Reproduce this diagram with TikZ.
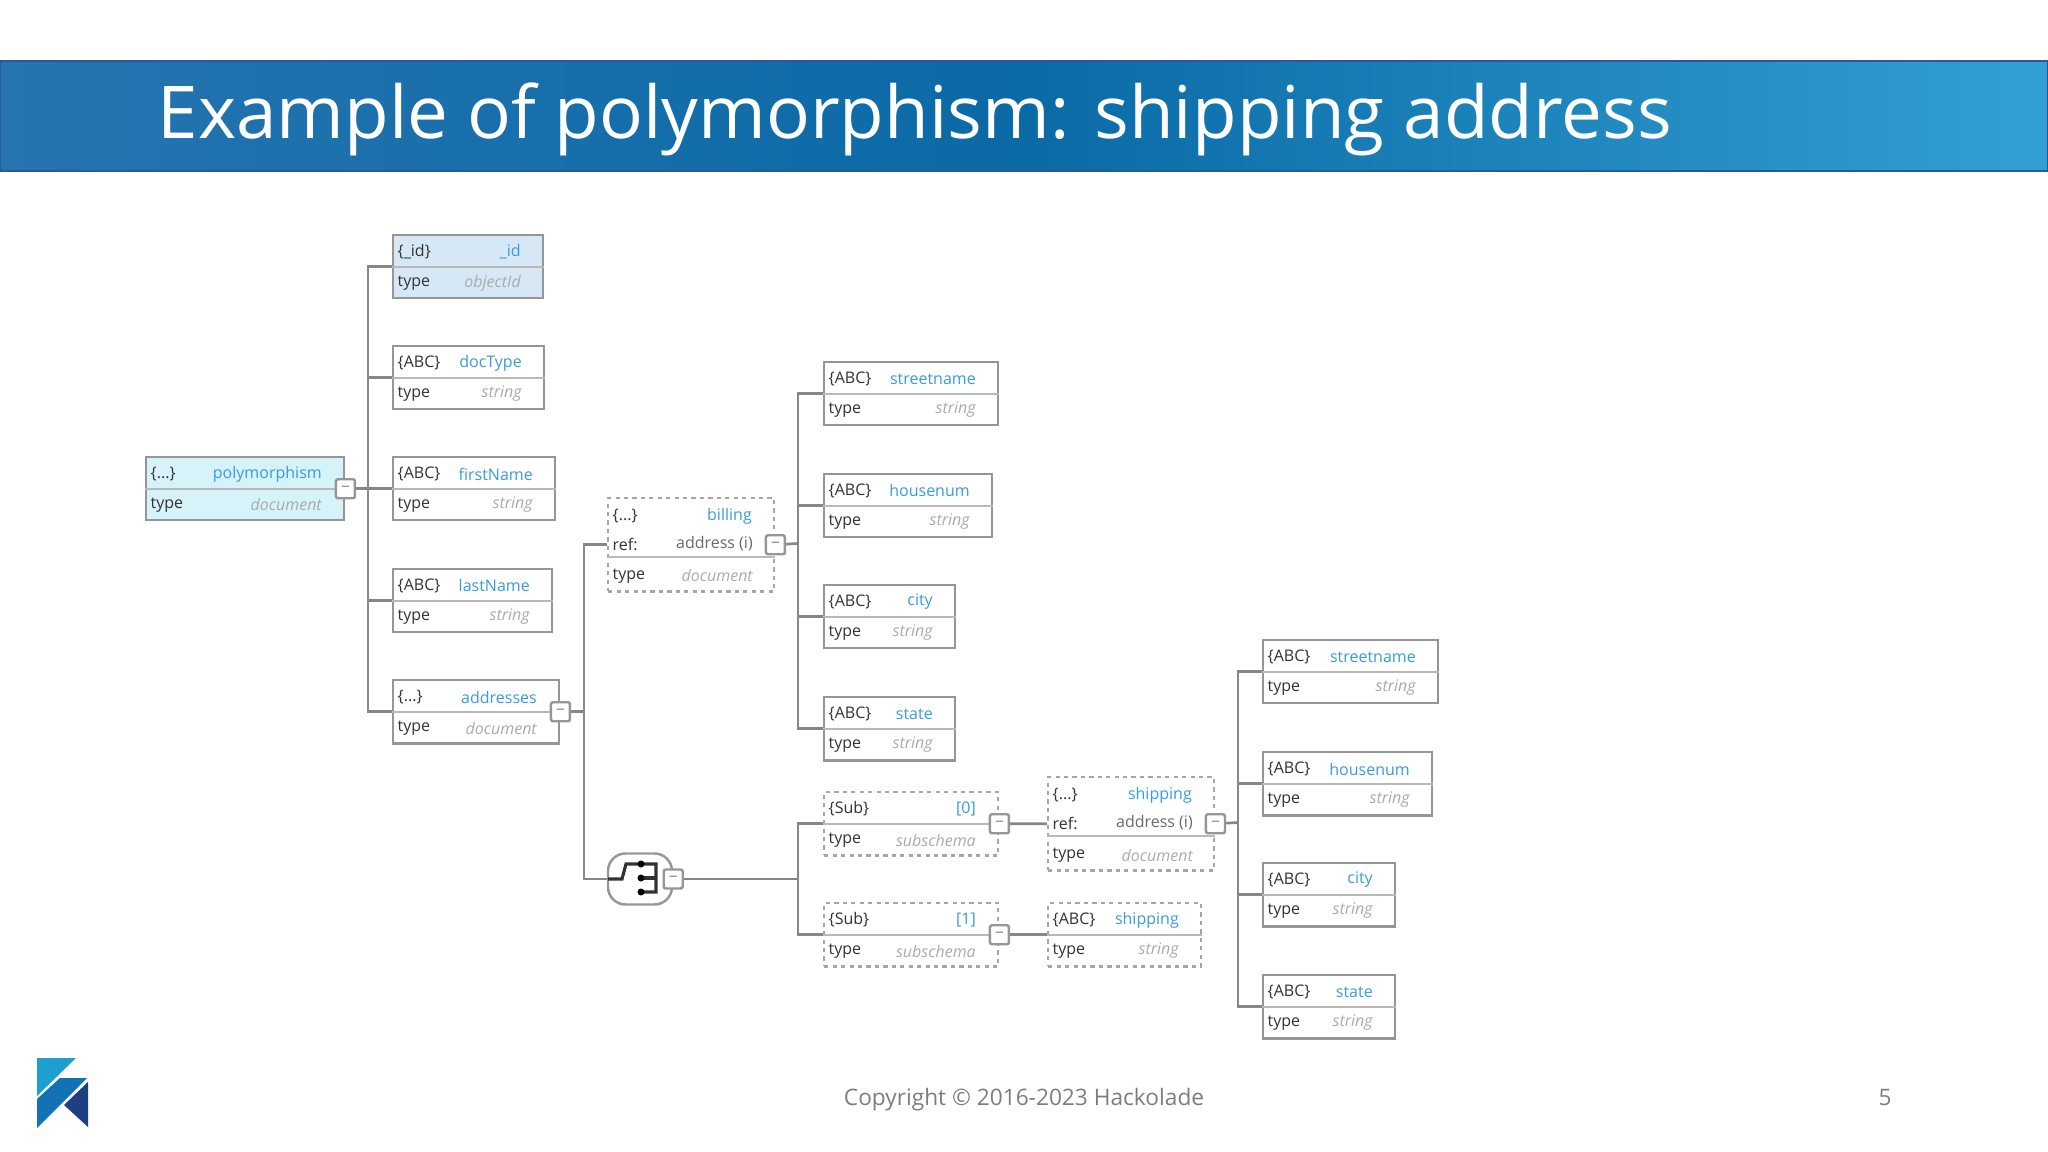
\documentclass[tikz,border=0pt]{standalone}
\usepackage{fontspec}
\setmainfont{Open Sans}
\usetikzlibrary{calc}
\definecolor{HeadLeft}{RGB}{38,116,176}
\definecolor{HeadMid}{RGB}{10,106,166}
\definecolor{HeadRight}{RGB}{50,160,210}
\definecolor{HeadEdge}{RGB}{44,88,150}
\definecolor{BoxEdge}{RGB}{150,150,150}
\definecolor{RowGrey}{RGB}{185,185,185}
\definecolor{LinkGrey}{RGB}{135,135,135}
\definecolor{NameBlue}{RGB}{58,155,220}
\definecolor{KeyDark}{RGB}{50,50,50}
\definecolor{RefGrey}{RGB}{105,105,105}
\definecolor{ValGrey}{RGB}{170,170,170}
\definecolor{RootFill}{RGB}{213,243,249}
\definecolor{IdFill}{RGB}{214,232,245}
\definecolor{FootGrey}{RGB}{125,125,125}
\definecolor{LogoLight}{RGB}{27,160,207}
\definecolor{LogoMid}{RGB}{17,115,180}
\definecolor{LogoDark}{RGB}{30,63,130}
\tikzset{
  fieldbox/.style={draw=BoxEdge,line width=0.7pt,fill=white,anchor=north west,inner sep=0pt,minimum height=0.63cm},
  refbox/.style={fieldbox,minimum height=0.93cm},
  optional/.style={draw=BoxEdge!85,dash pattern=on 1.2pt off 1.2pt},
  rowline/.style={draw=RowGrey,line width=0.6pt},
  keytext/.style={anchor=west,inner sep=0pt,text=KeyDark,font=\fontsize{4.55pt}{6pt}\selectfont},
  nametext/.style={anchor=east,inner sep=0pt,text=NameBlue,font=\fontsize{4.55pt}{6pt}\selectfont},
  valtext/.style={anchor=east,inner sep=0pt,text=ValGrey,font=\fontsize{4.55pt}{6pt}\itshape\selectfont},
  toggle/.style={draw=BoxEdge,line width=0.7pt,fill=white,rounded corners=0.6pt,minimum size=0.19cm,inner sep=0pt,text=BoxEdge,font=\fontsize{5pt}{6pt}\selectfont},
  link/.style={draw=LinkGrey,line width=0.75pt}
}
\newcommand{\fieldrow}[8]{
  \node[fieldbox,#2,minimum width=(#5-1)*0.01cm] (#1) at (#3-1,#4-1) {};
  \draw[rowline] (#1.west) -- (#1.east);
  \node[keytext] (#1key) at ($(#1.north west)+(5,18)$) {#6};
  \node[nametext] (#1name) at ($(#1.north east)+(-23,18)$) {#7};
  \node[keytext] (#1type) at ($(#1.north west)+(5,49)$) {type};
  \node[valtext] (#1val) at ($(#1.north east)+(-23,49)$) {#8};
}
\newcommand{\refrow}[7]{
  \node[refbox,optional,minimum width=(#4-1)*0.01cm] (#1) at (#2-1,#3-1) {};
  \draw[rowline] ($(#1.north west)+(0,60)$) -- ($(#1.north east)+(0,60)$);
  \node[keytext] (#1key) at ($(#1.north west)+(5,19)$) {#5};
  \node[nametext] (#1name) at ($(#1.north east)+(-23,19)$) {#6};
  \node[keytext] (#1ref) at ($(#1.north west)+(5,47)$) {ref:};
  \node[nametext,text=RefGrey] (#1target) at ($(#1.north east)+(-22,47)$) {address (i)};
  \node[keytext] (#1type) at ($(#1.north west)+(5,79)$) {type};
  \node[valtext] (#1val) at ($(#1.north east)+(-22,79)$) {#7};
}
\begin{document}
\begin{tikzpicture}[x=0.01cm,y=-0.01cm]
  \useasboundingbox (0,0) rectangle (2048,1152);
  \draw[HeadEdge,line width=0.6pt,left color=HeadLeft,right color=HeadRight,middle color=HeadMid] (0,61) rectangle (2048,171);
  \node[anchor=base west,inner sep=0pt,text=white,font=\fontsize{20.7pt}{28pt}\selectfont] (title) at (157,139) {Example of polymorphism: shipping address};

  \coordinate (rootbus) at (368,487.5);
  \coordinate (addrbus) at (584,710.5);
  \coordinate (billbus) at (798,543.5);
  \coordinate (subbus) at (798,879);
  \coordinate (shipbus) at (1238,822.5);

  \fieldrow{polymorphism}{fill=RootFill}{146}{457}{199}{\{...\}}{polymorphism}{document}
  \fieldrow{idfield}{fill=IdFill}{393}{235}{151}{\{\_id\}}{\_id}{objectId}
  \fieldrow{doctype}{}{393}{346}{152}{\{ABC\}}{docType}{string}
  \fieldrow{firstname}{}{393}{457}{163}{\{ABC\}}{firstName}{string}
  \fieldrow{lastname}{}{393}{569}{160}{\{ABC\}}{lastName}{string}
  \fieldrow{addresses}{}{393}{680}{167}{\{...\}}{addresses}{document}

  \refrow{billing}{608}{498}{167}{\{...\}}{billing}{document}

  \fieldrow{streetA}{}{824}{362}{175}{\{ABC\}}{streetname}{string}
  \fieldrow{houseA}{}{824}{474}{169}{\{ABC\}}{housenum}{string}
  \fieldrow{cityA}{}{824}{585}{132}{\{ABC\}}{city}{string}
  \fieldrow{stateA}{}{824}{697}{132}{\{ABC\}}{state}{string}

  \fieldrow{subzero}{optional}{824}{792}{175}{\{Sub\}}{[0]}{subschema}
  \fieldrow{subone}{optional}{824}{903}{175}{\{Sub\}}{[1]}{subschema}
  \refrow{shipdoc}{1048}{777}{167}{\{...\}}{shipping}{document}
  \fieldrow{shipstr}{optional}{1048}{903}{154}{\{ABC\}}{shipping}{string}

  \fieldrow{streetB}{}{1263}{640}{176}{\{ABC\}}{streetname}{string}
  \fieldrow{houseB}{}{1263}{752}{170}{\{ABC\}}{housenum}{string}
  \fieldrow{cityB}{}{1263}{863}{133}{\{ABC\}}{city}{string}
  \fieldrow{stateB}{}{1263}{975}{133}{\{ABC\}}{state}{string}

  \node[draw=BoxEdge,line width=0.7pt,rounded corners=5pt,minimum width=0.64cm,minimum height=0.51cm,inner sep=0pt] (choice) at (640,879) {};

  \draw[link] (polymorphism.east) -- (firstname.west);
  \draw[link] (idfield.west) -| (rootbus);
  \draw[link] (doctype.west) -| (rootbus);
  \draw[link] (lastname.west) -| (rootbus);
  \draw[link] (addresses.west) -| (rootbus);
  \draw[link] (addresses.east) -| (addrbus);
  \draw[link] (billing.west) -| (addrbus);
  \draw[link] (choice.west) -| (addrbus);
  \draw[link] (billing.east) -- (billbus);
  \draw[link] (streetA.west) -| (billbus);
  \draw[link] (houseA.west) -| (billbus);
  \draw[link] (cityA.west) -| (billbus);
  \draw[link] (stateA.west) -| (billbus);
  \draw[link] (choice.east) -- (subbus);
  \draw[link] (subzero.west) -| (subbus);
  \draw[link] (subone.west) -| (subbus);
  \draw[link] (subzero.east) -- (shipdoc.west);
  \draw[link] (subone.east) -- (shipstr.west);
  \draw[link] (shipdoc.east) -- (shipbus);
  \draw[link] (streetB.west) -| (shipbus);
  \draw[link] (houseB.west) -| (shipbus);
  \draw[link] (cityB.west) -| (shipbus);
  \draw[link] (stateB.west) -| (shipbus);

  \node[toggle] (polytoggle) at (polymorphism.east) {--};
  \node[toggle] (addrtoggle) at (addresses.east) {--};
  \node[toggle] (billtoggle) at (billing.east) {--};
  \node[toggle] (zerotoggle) at (subzero.east) {--};
  \node[toggle] (onetoggle) at (subone.east) {--};
  \node[toggle] (shiptoggle) at (shipdoc.east) {--};
  \node[toggle] (choicetoggle) at (choice.east) {--};

  \draw[KeyDark,line width=0.9pt] (608,879) -- (622,879) -- (626,864) -- (656,864) -- (656,892) -- (641,892);
  \draw[KeyDark,line width=0.9pt] (641,878) -- (656,878);
  \fill[black] (641,864) circle (3.5) (641,878) circle (3.5) (641,892) circle (3.5);

  \fill[LogoLight] (37,1058) -- (76,1058) -- (37,1096) -- cycle;
  \fill[LogoMid] (37,1099) -- (60,1078) -- (87,1078) -- (37,1128) -- cycle;
  \fill[LogoDark] (88,1082) -- (88,1127) -- (64,1105) -- cycle;

  \node[anchor=base,inner sep=0pt,text=FootGrey,font=\fontsize{6.45pt}{8pt}\selectfont] (copyright) at (1024,1105) {Copyright © 2016-2023 Hackolade};
  \node[anchor=base,inner sep=0pt,text=FootGrey,font=\fontsize{6.45pt}{8pt}\selectfont] (pagenum) at (1885,1105) {5};
\end{tikzpicture}
\end{document}
